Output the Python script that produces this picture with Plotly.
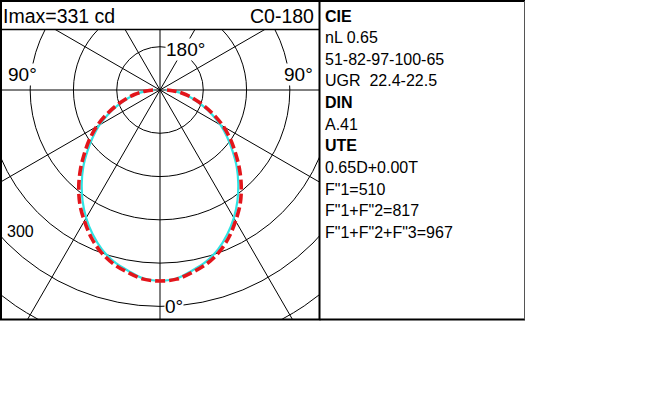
import numpy as np
import plotly.graph_objects as go

# ---- data ----
gamma_deg = [0, 5, 10, 15, 20, 25, 30, 35, 40, 45, 50, 55, 60, 65, 70, 75, 80, 85, 90]
c0_180 = [331, 329, 321, 312, 299, 282, 262, 242, 219, 195, 171, 149, 127, 104, 82, 62, 45, 28, 12]
c90_270 = [331, 328, 318, 308, 294, 276, 256, 234, 211, 188, 164, 142, 121, 99, 78, 59, 43, 26, 10]
ring_cd = [75, 150, 225, 300, 375, 450]
spoke_deg = [0, 30, 60, 90, 120, 150]
header_left = "Imax=331 cd"
header_right = "C0-180"
info_lines = [("CIE", True), ("nL 0.65", False), ("51-82-97-100-65", False),
              ("UGR  22.4-22.5", False), ("DIN", True), ("A.41", False), ("UTE", True),
              ("0.65D+0.00T", False), ("F\"1=510", False), ("F\"1+F\"2=817", False),
              ("F\"1+F\"2+F\"3=967", False)]

W, H = 657, 400
K = 1.733  # cd per pixel
FONT = "Liberation Sans, Arial, sans-serif"


def px(x):
    return x / W


def py(y):
    return 1 - y / H


g = np.radians(gamma_deg)
fig = go.Figure()


def side(vals, sign):
    v = np.array(vals, float)
    return sign * v * np.sin(g), -v * np.cos(g)


# C90-270 (cyan solid)
for s in (1, -1):
    x, y = side(c90_270, s)
    fig.add_trace(go.Scatter(x=x, y=y, mode="lines", line=dict(color="#30e3e3", width=2.2),
                             line_shape="spline", hoverinfo="skip", showlegend=False))
# C0-180 (red dashed)
xr, yr = side(c0_180, 1)
xl, yl = side(c0_180, -1)
fig.add_trace(go.Scatter(x=np.concatenate([xl[::-1], xr[1:]]), y=np.concatenate([yl[::-1], yr[1:]]),
                         mode="lines", line=dict(color="#e3151b", width=3.6, dash="10px,4px"),
                         line_shape="spline", hoverinfo="skip", showlegend=False))

shapes = []
for r in ring_cd:
    shapes.append(dict(type="circle", xref="x", yref="y", x0=-r, x1=r, y0=-r, y1=r,
                       line=dict(color="black", width=1), layer="below"))
for a in spoke_deg:
    t = np.radians(a)
    L = 2000
    shapes.append(dict(type="line", xref="x", yref="y", x0=-L * np.sin(t), y0=L * np.cos(t),
                       x1=L * np.sin(t), y1=-L * np.cos(t),
                       line=dict(color="black", width=1), layer="below"))
# frames
frame = dict(color="black", width=2)
shapes += [
    dict(type="rect", xref="paper", yref="paper", x0=px(1), x1=px(319.5), y0=py(319.5), y1=py(1), line=frame),
    dict(type="line", xref="paper", yref="paper", x0=px(0), x1=px(319.5), y0=py(29.5), y1=py(29.5), line=dict(color="black", width=1.5)),
    dict(type="line", xref="paper", yref="paper", x0=px(319.5), x1=px(525), y0=py(1), y1=py(1), line=frame),
    dict(type="line", xref="paper", yref="paper", x0=px(319.5), x1=px(525), y0=py(319.5), y1=py(319.5), line=frame),
    dict(type="line", xref="paper", yref="paper", x0=px(524.5), x1=px(524.5), y0=py(1), y1=py(319.5), line=dict(color="#555", width=1)),
]

ann = []


def label(text, x, y, xanchor="left", size=19, bold=False, bg=None):
    d = dict(text=("<b>%s</b>" % text) if bold else text, x=px(x), y=py(y), xref="paper", yref="paper",
             xanchor=xanchor, yanchor="middle", showarrow=False,
             font=dict(family=FONT, size=size, color="black"), borderpad=0)
    if bg:
        d["bgcolor"] = bg
    ann.append(d)


label(header_left, 2, 16, size=19.5)
label(header_right, 315, 16, xanchor="right", size=19.5)
label("180°", 165, 49, bg="white")
label("0°", 164, 306, bg="white")
label("90°", 7, 74, bg="white")
label("90°", 314, 74, xanchor="right", bg="white")
label("300", 6, 232, size=16, bg="white")

y0 = 16
for i, (t, b) in enumerate(info_lines):
    label(t, 324, y0 + i * 21.65, size=16, bold=b)

fig.update_layout(
    width=W, height=H, margin=dict(l=0, r=0, t=0, b=0),
    paper_bgcolor="white", plot_bgcolor="white",
    xaxis=dict(domain=[0, px(320)], range=[-160 * K, 160 * K], visible=False, fixedrange=True),
    yaxis=dict(domain=[py(320), py(30)], range=[-230 * K, 60 * K], visible=False, fixedrange=True),
    shapes=shapes, annotations=ann, showlegend=False,
)
fig.write_html("out.html", config={"displayModeBar": False},
               post_script="document.body.style.margin='0';document.body.style.padding='0';")
